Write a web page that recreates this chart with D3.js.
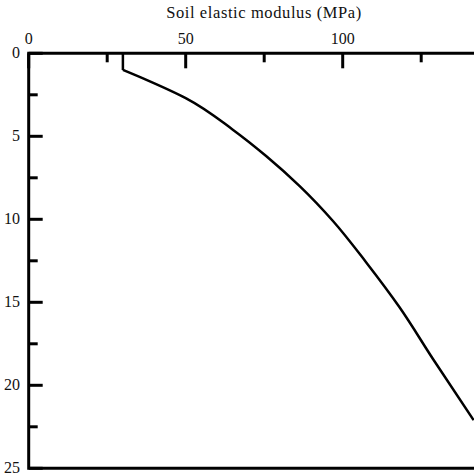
<!DOCTYPE html>
<html><head><meta charset="utf-8">
<script src="https://cdn.jsdelivr.net/npm/d3@7"></script>
<style>body{margin:0;background:#fff}text{font-family:"Liberation Serif",serif;fill:#111}</style>
</head><body><svg id="c" width="474" height="474"></svg>
<script>
// modulus (MPa) vs depth (m)
const modulus = [30, 30, 37.5, 50, 65, 75.7, 86.3, 96.9, 107.5, 118.1, 128.7, 141.7];
const depth = [0, 1, 1.6, 2.7, 4.6, 6.2, 8, 10.1, 12.6, 15.3, 18.4, 22.1];
const xTicks = [0, 25, 50, 75, 100, 125];
const xLabels = [0, 50, 100];
const yTicks = [0, 2.5, 5, 7.5, 10, 12.5, 15, 17.5, 20, 22.5, 25];
const yLabels = [0, 5, 10, 15, 20, 25];

const svg = d3.select("#c");
const mLeft = 28.7, mTop = 53.3, mRight = 474, mBottom = 468.3;
const x = d3.scaleLinear().domain([0, 50]).range([mLeft, 185.7]);
x.domain([0, x.invert(mRight)]).range([mLeft, mRight]);
const y = d3.scaleLinear().domain([0, 25]).range([mTop, mBottom]);

svg.append("defs").append("clipPath").attr("id", "clip")
  .append("rect").attr("x", mLeft).attr("y", mTop).attr("width", mRight - mLeft).attr("height", mBottom - mTop);

// ticks
svg.selectAll(".xt").data(xTicks).join("line")
  .attr("x1", d => x(d)).attr("x2", d => x(d))
  .attr("y1", mTop).attr("y2", d => mTop + (d % 50 === 0 ? 15 : 9))
  .attr("stroke", "#000").attr("stroke-width", 3);
svg.selectAll(".yt").data(yTicks).join("line")
  .attr("y1", d => y(d)).attr("y2", d => y(d))
  .attr("x1", mLeft).attr("x2", d => mLeft + (d % 5 === 0 ? 14 : 9))
  .attr("stroke", "#000").attr("stroke-width", 3);

svg.selectAll(".xl").data(xLabels).join("text")
  .attr("x", d => x(d)).attr("y", 44).attr("text-anchor", "middle")
  .attr("font-size", 16).text(d => d);
svg.selectAll(".yl").data(yLabels).join("text")
  .attr("x", 20).attr("y", d => y(d) + 5).attr("text-anchor", "end")
  .attr("font-size", 16).text(d => d);

svg.append("text").attr("x", 264).attr("y", 18).attr("text-anchor", "middle")
  .attr("font-size", 16.5).attr("letter-spacing", 0.6).text("Soil elastic modulus (MPa)");

// axes frame (top, left, bottom)
svg.append("path")
  .attr("d", `M${mRight},${mTop}H${mLeft}V${mBottom}H${mRight}`)
  .attr("fill", "none").attr("stroke", "#000").attr("stroke-width", 3);

const pts = modulus.map((m, i) => [m, depth[i]]);
svg.append("path").datum(pts.slice(0, 2)).attr("clip-path", "url(#clip)")
  .attr("d", d3.line().x(d => x(d[0])).y(d => y(d[1])))
  .attr("fill", "none").attr("stroke", "#000").attr("stroke-width", 2.5);
svg.append("path").datum(pts.slice(1)).attr("clip-path", "url(#clip)")
  .attr("d", d3.line().x(d => x(d[0])).y(d => y(d[1])).curve(d3.curveMonotoneY))
  .attr("fill", "none").attr("stroke", "#000").attr("stroke-width", 2.5);
</script></body></html>
